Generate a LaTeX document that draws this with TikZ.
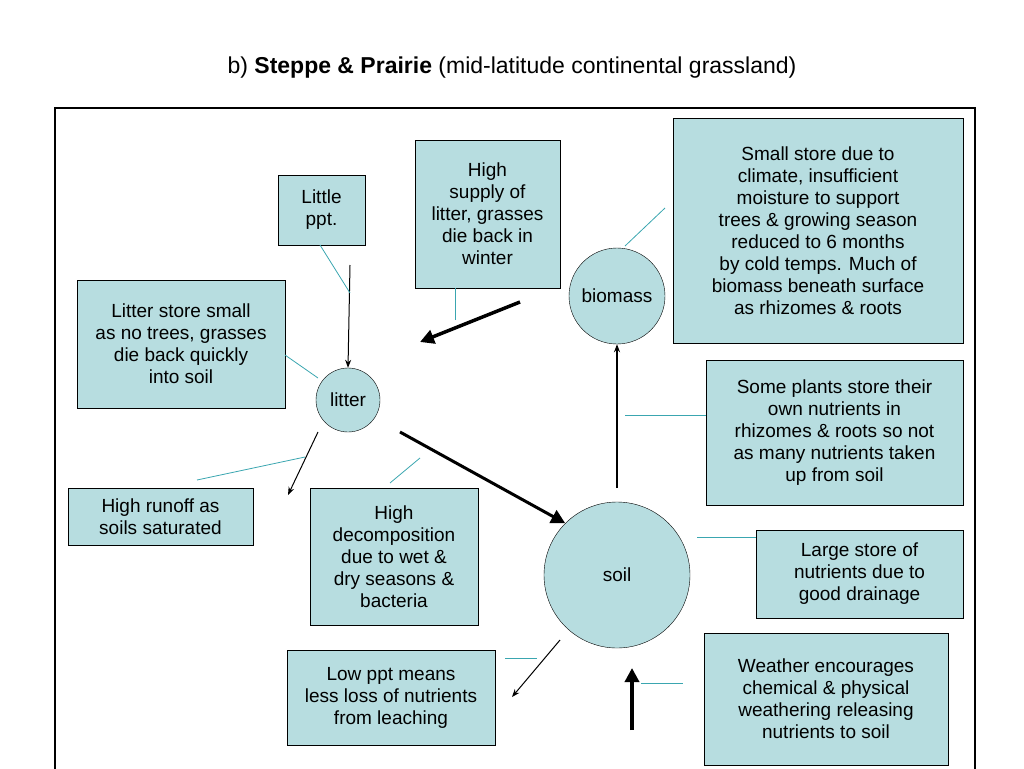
\documentclass[tikz,border=0pt]{standalone}
\usepackage{fontspec}
\setmainfont{Liberation Sans}
\usetikzlibrary{arrows.meta}
\definecolor{bx}{HTML}{B7DDE0}
\definecolor{tl}{HTML}{3AA6B0}
\begin{document}
\begin{tikzpicture}[x=1pt,y=-1pt,
 bx/.style={draw=black,fill=bx,align=center,font=\fontsize{19}{22}\selectfont,inner sep=0pt},
 cir/.style={draw=black,fill=bx,circle,font=\fontsize{19}{22}\selectfont},
 tline/.style={draw=tl,line width=0.8pt},
 thin/.style={draw=black,line width=1pt,-{Stealth[length=8pt,width=6pt]}},
 thick/.style={draw=black,line width=3.5pt,-{Triangle[length=14pt,width=14pt]}}]
\useasboundingbox (0,0) rectangle (1024,768);
\node (title) at (512,68) {\fontsize{23}{26}\selectfont b) \textbf{Steppe \& Prairie} (mid-latitude continental grassland)};
\draw[line width=1.2pt] (55,770) -- (55,108) -- (975,108) -- (975,770);
\node[bx,minimum width=87,minimum height=70] (ppt) at (321.5,210) {Little\\ppt.};
\node[bx,minimum width=145,minimum height=148] (sup) at (487.5,214) {High\\supply of\\litter, grasses\\die back in\\winter};
\node[bx,minimum width=290,minimum height=225] (small) at (818,230.5) {Small store due to\\climate, insufficient\\moisture to support\\trees \& growing season\\reduced to 6 months\\by cold temps. Much of\\biomass beneath surface\\as rhizomes \& roots};
\node[bx,minimum width=208,minimum height=128] (lit) at (181,344) {Litter store small\\as no trees, grasses\\die back quickly\\into soil};
\node[bx,minimum width=257,minimum height=145] (some) at (834.5,432.5) {Some plants store their\\own nutrients in\\rhizomes \& roots so not\\as many nutrients taken\\up from soil};
\node[bx,minimum width=185,minimum height=57] (run) at (160.5,516.5) {High runoff as\\soils saturated};
\node[bx,minimum width=168,minimum height=137] (dec) at (394,556.5) {High\\decomposition\\due to wet \&\\dry seasons \&\\bacteria};
\node[bx,minimum width=207,minimum height=88] (large) at (859.5,574) {Large store of\\nutrients due to\\good drainage};
\node[bx,minimum width=208,minimum height=95] (low) at (391,697.5) {Low ppt means\\less loss of nutrients\\from leaching};
\node[bx,minimum width=244,minimum height=132] (wea) at (826,699) {Weather encourages\\chemical \& physical\\weathering releasing\\nutrients to soil};
\node[cir,minimum size=64,inner sep=0pt] (litter) at (348,400) {litter};
\node[cir,minimum size=96,inner sep=0pt] (bio) at (617,296) {biomass};
\node[cir,minimum size=146,inner sep=0pt] (soil) at (617,575) {soil};
\coordinate (a1) at (350,265); \coordinate (t1) at (520,302); \coordinate (t1e) at (420,342);
\coordinate (w1) at (632,730);
\draw[thin] (a1) -- (litter.north);
\draw[thick] (t1) -- (t1e);
\draw[thick,line width=3pt] (400,432) -- (soil.north west);
\draw[thin] (318,432) -- (288,495);
\draw[thin,line width=2pt] (617,488) -- (bio.south);
\draw[thin] (560,640) -- (512,697);
\draw[thick] (w1) -- (632,668);
\draw[tline] (320,245) -- (350,293);
\draw[tline] (455,288) -- (455,320);
\draw[tline] (625,246) -- (665,208);
\draw[tline] (285,355) -- (318,378);
\draw[tline] (197,480) -- (305,457);
\draw[tline] (390,483) -- (420,458);
\draw[tline] (625,415) -- (706,415);
\draw[tline] (697,537) -- (756,537);
\draw[tline] (505,658) -- (537,658);
\draw[tline] (641,683) -- (683,683);
\end{tikzpicture}
\end{document}
